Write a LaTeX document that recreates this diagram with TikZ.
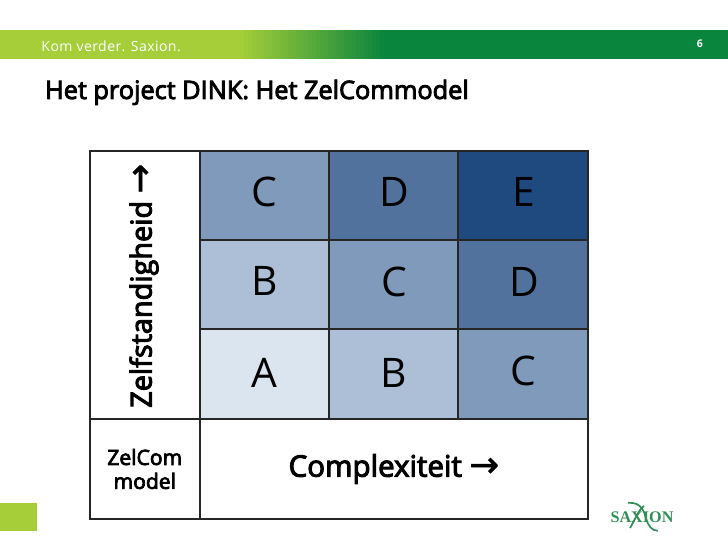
\documentclass[tikz,border=0pt]{standalone}
\usepackage{fontspec}
\setmainfont{Open Sans}
\newfontfamily\heavyfont[FakeBold=3.5]{Open Sans}
\newfontfamily\arrowfont[FakeBold=2]{DejaVu Sans}
\newfontfamily\logofont{Liberation Serif}
\usepackage{tikz}
\definecolor{lime}{HTML}{A6CE39}
\definecolor{saxgreen}{HTML}{0A853D}
\definecolor{logogreen}{HTML}{2F8F55}
\definecolor{levelA}{HTML}{DBE5EF}
\definecolor{levelB}{HTML}{ACBFD6}
\definecolor{levelC}{HTML}{7F9ABA}
\definecolor{levelD}{HTML}{51729C}
\definecolor{levelE}{HTML}{1F4A80}
\tikzset{
  cellbox/.style={draw=black!85, line width=1.4pt, minimum width=3.235cm, minimum height=2.225cm, inner sep=0pt},
  letter/.style={inner sep=0pt, font=\fontsize{29}{29}\selectfont},
  labelbox/.style={draw=black!85, line width=1.4pt, inner sep=0pt, align=center, font=\fontsize{21}{22}\selectfont\heavyfont}
}
\begin{document}
\begin{tikzpicture}
\useasboundingbox (0,0) rectangle (18.2,13.65);
\fill [white] (0,0) rectangle (18.2,13.65);
% header
\fill [lime] (0,12.175) rectangle (6.0,12.9);
\foreach \i in {0,...,35} {
  \pgfmathsetmacro{\mixpct}{(\i+0.5)*100/36}
  \fill [saxgreen!\mixpct!lime] (6.0+\i*0.1,12.175) rectangle (6.12+\i*0.1,12.9);
}
\fill [saxgreen] (9.6,12.175) rectangle (18.2,12.9);
\node [anchor=west, text=white, inner sep=0pt, font=\fontsize{10}{12}\selectfont] (slogan) at (1.03,12.5) {\addfontfeature{LetterSpace=3}Kom verder. Saxion.};
\node [text=white, inner sep=0pt, font=\fontsize{7.5}{8}\selectfont\bfseries] (pagenr) at (17.5,12.56) {6};
\node [anchor=west, inner sep=0pt, font=\fontsize{18}{20}\selectfont\heavyfont] (title) at (1.12,11.34) {Het project DINK: Het ZelCommodel};
% matrix
\node [cellbox, fill=levelC] (c1) at (6.6075,8.7625) {};
\node [cellbox, fill=levelD] (d1) at (9.8425,8.7625) {};
\node [cellbox, fill=levelE] (e1) at (13.0775,8.7625) {};
\node [cellbox, fill=levelB] (b2) at (6.6075,6.5375) {};
\node [cellbox, fill=levelC] (c2) at (9.8425,6.5375) {};
\node [cellbox, fill=levelD] (d2) at (13.0775,6.5375) {};
\node [cellbox, fill=levelA] (a3) at (6.6075,4.3) {};
\node [cellbox, fill=levelB] (b3) at (9.8425,4.3) {};
\node [cellbox, fill=levelC] (c3) at (13.0775,4.3) {};
\node [letter] (c1text) at (6.61,8.85) {C};
\node [letter] (d1text) at (9.86,8.85) {D};
\node [letter] (e1text) at (13.09,8.85) {E};
\node [letter] (b2text) at (6.62,6.62) {B};
\node [letter] (c2text) at (9.86,6.6) {C};
\node [letter] (d2text) at (13.1,6.6) {D};
\node [letter] (a3text) at (6.6,4.33) {A};
\node [letter] (b3text) at (9.84,4.33) {B};
\node [letter] (c3text) at (13.09,4.38) {C};
% labels
\node [labelbox, minimum width=2.74cm, minimum height=6.7cm] (yaxis) at (3.62,6.525) {};
\node [rotate=90, anchor=west, inner sep=0pt, font=\fontsize{20.5}{22}\selectfont\heavyfont] (ytext) at (3.6,3.45) {Zelfstandigheid {\arrowfont\fontsize{25}{22}\selectfont →}};
\node [labelbox, minimum width=2.74cm, minimum height=2.5cm, font=\fontsize{15}{17}\selectfont\heavyfont] (corner) at (3.62,1.925) {ZelCom\\model};
\node [labelbox, minimum width=9.71cm, minimum height=2.5cm] (xaxis) at (9.845,1.925) {Complexiteit {\arrowfont\fontsize{25}{22}\selectfont →}};
% footer
\fill [lime] (0,0.37) rectangle (0.92,1.075);
\node [inner sep=0pt, text=logogreen, font=\fontsize{11.5}{12}\selectfont\bfseries\logofont] (logo) at (16.05,0.72) {SAXION};
\draw [logogreen, line width=1.2pt] (15.7,1.08) .. controls (16.05,1.1) and (16.1,0.85) .. (16.15,0.7) .. controls (16.2,0.5) and (16.3,0.38) .. (16.45,0.38);
\draw [logogreen, line width=1.2pt] (15.75,0.45) .. controls (15.85,0.6) and (15.95,0.9) .. (16.1,1.0);
\end{tikzpicture}
\end{document}
